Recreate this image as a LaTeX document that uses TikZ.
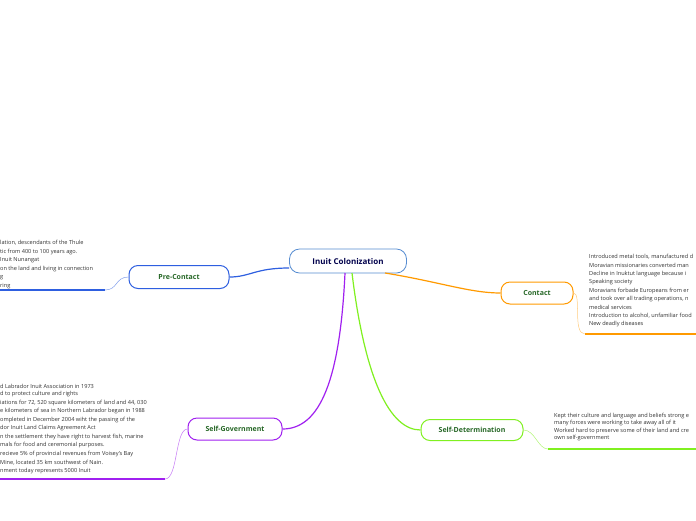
\documentclass[tikz,border=0pt]{standalone}
\usepackage{fontspec}
\setmainfont{Open Sans}
\begin{document}
\begin{tikzpicture}[x=1pt,y=-1pt,
  topic/.style={draw=#1,line width=1pt,rounded corners=9pt,fill=white,font=\bfseries\fontsize{7}{8}\selectfont,text=green!30!black!85,inner sep=0pt},
  info/.style={anchor=west,font=\fontsize{5.6}{6}\selectfont,text=black!80,inner sep=0pt}]
\clip (0,0) rectangle (696,520);
\fill[white] (0,0) rectangle (696,520);
\definecolor{cb}{HTML}{2E5FE0}\definecolor{cp}{HTML}{A020F0}
\definecolor{cg}{HTML}{80F020}\definecolor{co}{HTML}{FF9A00}
% central
\node[draw=cyan!50!blue!70,line width=0.8pt,rounded corners=10pt,fill=white,minimum width=117pt,minimum height=24pt,font=\bfseries\fontsize{8}{9}\selectfont,text=blue!30!black] (c) at (348,261) {Inuit Colonization};
\node[topic=cb,minimum width=100pt,minimum height=23pt] (pc) at (179,277) {Pre-Contact};
\node[topic=co,minimum width=72pt,minimum height=22pt] (ct) at (537,293) {Contact};
\node[topic=cp,minimum width=94pt,minimum height=22pt] (sg) at (235,429) {Self-Government};
\node[topic=cg,minimum width=102pt,minimum height=21pt] (sd) at (472,430) {Self-Determination};
% main branches
\draw[cb,line width=1.2pt] (c.west|-0,268) .. controls (255,268) and (250,277) .. (pc.east);
\draw[co,line width=1.2pt] (385,273) .. controls (440,282) and (470,293) .. (ct.west);
\draw[cp,line width=1.2pt] (345,273) .. controls (340,380) and (320,429) .. (sg.east);
\draw[cg,line width=1.2pt] (352,273) .. controls (365,380) and (390,430) .. (sd.west);
% underlines
\coordinate (pu) at (105,290);
\draw[cb!60,line width=0.5pt] (pc.west) .. controls (115,277) and (118,290) .. (pu);
\draw[cb,line width=1.2pt] (pu) -- (0,290);
\coordinate (su) at (165,479);
\draw[cp!60,line width=0.5pt] (sg.west) .. controls (175,429) and (178,479) .. (su);
\draw[cp,line width=1.2pt] (su) -- (0,479);
\coordinate (cu) at (585,334);
\draw[co!50,line width=0.5pt] (ct.east) .. controls (582,293) and (572,334) .. (cu);
\draw[co,line width=1.2pt] (cu) -- (696,334);
\coordinate (du) at (548,449);
\draw[cg!60,line width=0.5pt] (sd.east) .. controls (535,430) and (538,449) .. (du);
\draw[cg,line width=1.2pt] (du) -- (696,449);
% texts
\foreach \t [count=\i from 0] in {{lation, descendants of the Thule},{tic from 400 to 100 years ago.},{Inuit Nunangat},{on the land and living in connection},{g},{ring}}
  \node[info] (p\i) at (0,{243+8.6*\i}) {\t};
\foreach \t [count=\i from 0] in {{d Labrador Inuit Association in 1973},{d to protect culture and rights},{iations for 72, 520 square kilometers of land and 44, 030},{e kilometers of sea in Northern Labrador began in 1988},{ompleted in December 2004 wiht the passing of the},{dor Inuit Land Claims Agreement Act},{n the settlement they have right to harvest fish, marine},{mals for food and ceremonial purposes.},{recieve 5\% of provincial revenues from Voisey's Bay},{Mine, located 35 km southwest of Nain.},{nment today represents 5000 Inuit}}
  \node[info] (g\i) at (0,{386+8.5*\i}) {\t};
\foreach \t [count=\i from 0] in {{Introduced metal tools, manufactured d},{Moravian missionaries converted man},{Decline in Inuktut language because i},{Speaking society},{Moravians forbade Europeans from er},{and took over all trading operations, n},{medical services},{Introduction to alcohol, unfamiliar food},{New deadly diseases}}
  \node[info] (k\i) at (589,{257+8.4*\i}) {\t};
\foreach \t [count=\i from 0] in {{Kept their culture and language and beliefs strong e},{many forces were working to take away all of it},{Worked hard to preserve some of their land and cre},{own self-government}}
  \node[info] (d\i) at (554,{416+7.5*\i}) {\t};
\end{tikzpicture}
\end{document}
